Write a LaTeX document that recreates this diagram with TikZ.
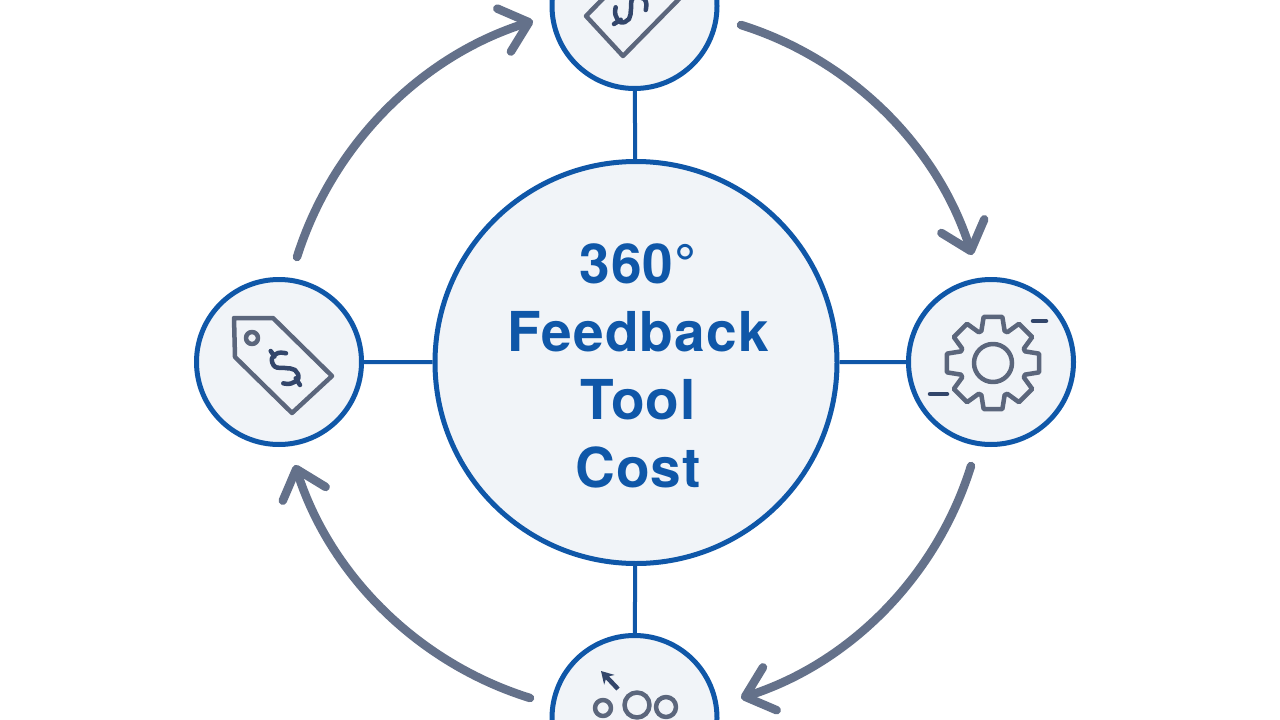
\documentclass[tikz,border=0pt]{standalone}
\usepackage{fontspec}
\setmainfont[LetterSpace=2]{TeX Gyre Heros}
\usetikzlibrary{arrows.meta}
\definecolor{brandblue}{HTML}{0F57A8}
\definecolor{discfill}{HTML}{F1F4F8}
\definecolor{loopgrey}{HTML}{64718A}
\definecolor{icongrey}{HTML}{5B667C}
\definecolor{icondark}{HTML}{33466B}
\tikzset{
  hub/.style={circle,draw=brandblue,fill=discfill,line width=5pt,minimum size=402pt,inner sep=0pt},
  sat/.style={circle,draw=brandblue,fill=discfill,line width=5pt,minimum size=165pt,inner sep=0pt},
  spoke/.style={draw=brandblue,line width=4pt},
  loopar/.style={draw=loopgrey,line width=8.5pt,line cap=round,
    -{Straight Barb[length=26pt 0 0,width=45pt 0 0,round]},bend left=27.5,looseness=.9},
  icon/.style={draw=icongrey,line width=4.5pt,line join=round,line cap=round},
  icond/.style={draw=icondark,line width=4.5pt,line join=round,line cap=round},
  title/.style={text=brandblue,align=center,font=\fontsize{55}{68}\selectfont\bfseries,inner sep=0pt}
}
\newcommand{\tagicon}{%
  \draw[icon] (-45,-44) -- (-6,-44) -- (53,14) -- (13,51) -- (-44,-5) -- cycle;
  \draw[icon] (-27,-24) circle (6pt);
  \draw[icond] plot[smooth,tension=.7] coordinates {(7,-8.7) (-1,-9) (-7,-3.7) (-4,4.7) (6,6) (16,8) (19.3,16.3) (12,21.5) (4.3,21.3)};
  \draw[icond] (-8.3,-11) -- (-4.5,-5.5);
  \draw[icond] (16.7,16.3) -- (21,23);
}
\begin{document}
\begin{tikzpicture}[x=1pt,y=-1pt]
\useasboundingbox (0,0) rectangle (1280,720);
\fill[white] (0,0) rectangle (1280,720);
\node[hub] (c) at (636,362.5) {};
\node[sat] (l) at (279,362) {};
\node[sat] (r) at (991,362) {};
\node[sat] (t) at (634.5,6) {};
\node[sat] (b) at (634.5,718) {};
\draw[spoke] (c) -- (l);
\draw[spoke] (c) -- (r);
\draw[spoke] (c) -- (t);
\draw[spoke] (c) -- (b);
\node[title] (label) at (638,366) {360°\\Feedback\\Tool\\Cost};
\coordinate (a1) at (741,25);
\coordinate (a2) at (972,255);
\coordinate (b1) at (971,466);
\coordinate (b2) at (741,698);
\coordinate (c1) at (530,698);
\coordinate (c2) at (295,465);
\coordinate (d1) at (297,257);
\coordinate (d2) at (533,21);
\draw[loopar] (a1) to (a2);
\draw[loopar] (b1) to (b2);
\draw[loopar] (c1) to (c2);
\draw[loopar] (d1) to (d2);
% left tag
\begin{scope}[shift={(279,362)}]\tagicon\end{scope}
% top tag
\begin{scope}[shift={(637,3)},rotate=-90]\tagicon\end{scope}
% gear
\begin{scope}[shift={(993,363)}]
  \draw[icon] (0,0) circle (19pt);
  \draw[icon] ({-90-11.5}:47)
    \foreach \a in {0,45,...,315}{
      -- ({\a-90-11.5}:47) -- ({\a-90+11.5}:47) -- ({\a-90+20}:34) -- ({\a-90+25}:34)
    } -- cycle;
\end{scope}
\draw[icond] (1033,321) -- (1046,321);
\draw[icond] (930,394) -- (947,394);
% bottom icon
\draw[icon] (603,708) circle (8pt);
\draw[icon] (637,705) circle (12.5pt);
\draw[icon] (666,707) circle (10pt);
\draw[icond,line cap=butt,-{Stealth[length=12pt,width=14pt]}] (618,689) -- (601,671);
\end{tikzpicture}
\end{document}
